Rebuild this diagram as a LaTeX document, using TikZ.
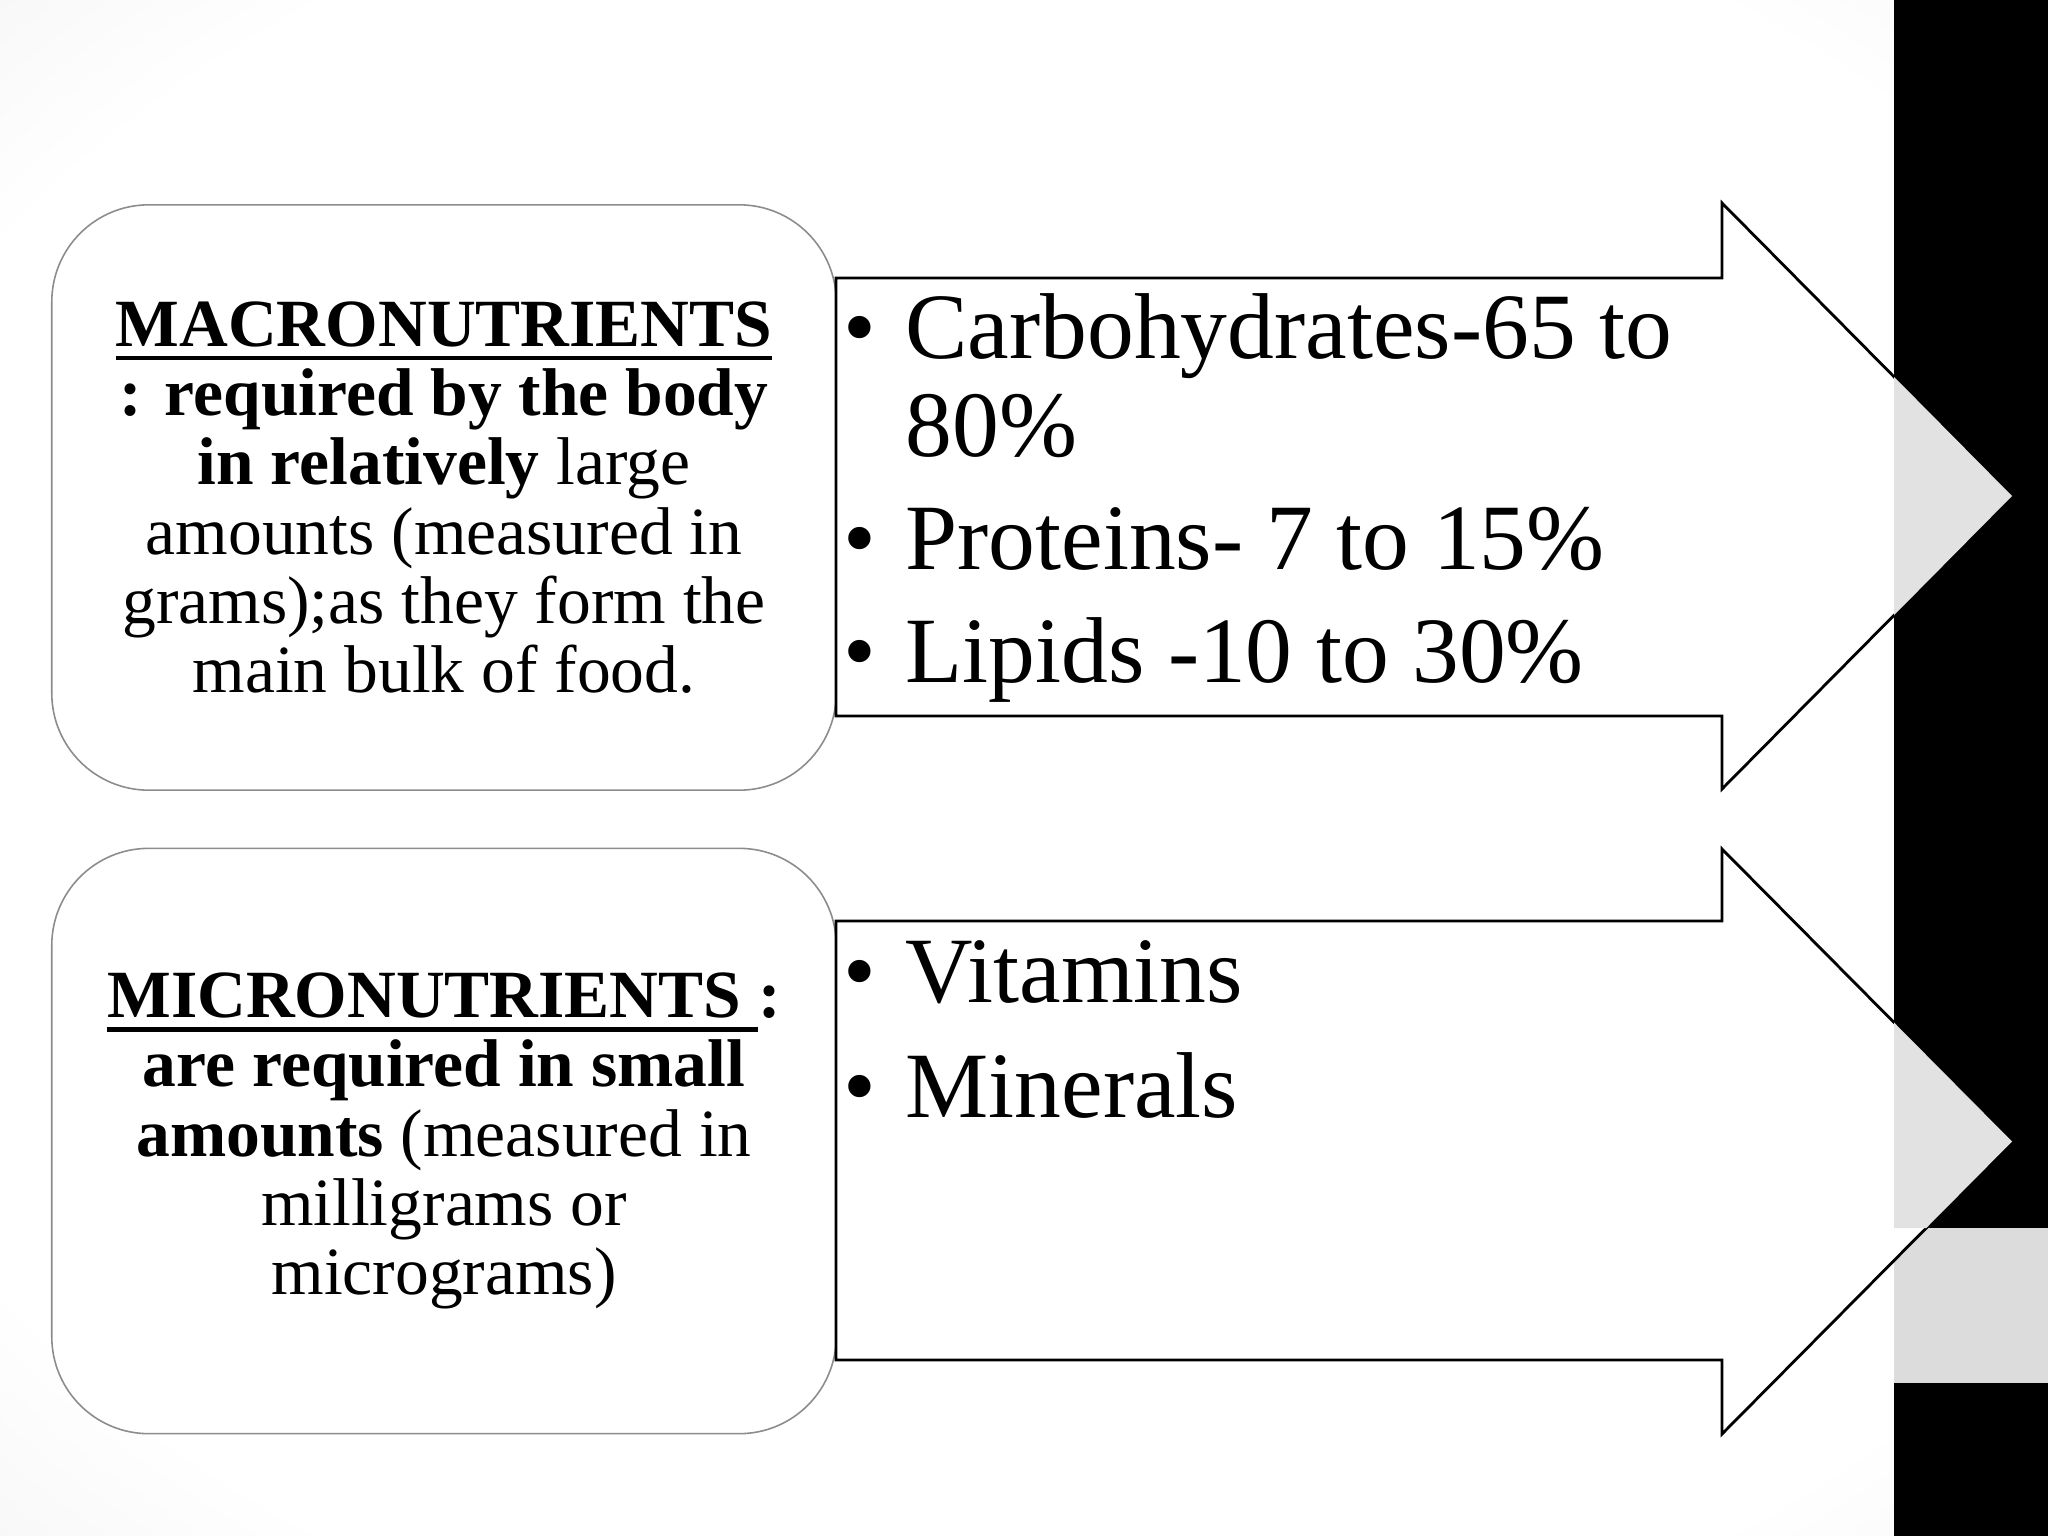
\documentclass[tikz,border=0pt]{standalone}
\usepackage{fontspec}
\setmainfont{Liberation Serif}
\usetikzlibrary{positioning}

\definecolor{boxline}{HTML}{8C8C8C}
\definecolor{bandgray}{HTML}{DCDCDC}
\definecolor{headgray}{HTML}{E2E2E2}
\pgfdeclareradialshading{slideshade}{\pgfpoint{0bp}{0bp}}{color(0bp)=(white); color(30bp)=(white); color(52bp)=(black!11); color(75bp)=(black!15)}

\newcommand{\thickul}[1]{\setbox0\hbox{#1}\rlap{\rule[-4pt]{\wd0}{1.3pt}}\box0}
\newcommand{\bul}{\makebox[17.6pt][l]{\textbullet}}
\newcommand{\arrowpath}[4]{(836,#3) -- (1722,#3) -- (1722,#1) -- (2012,{(#1+#2)/2}) -- (1722,#2) -- (1722,#4) -- (836,#4) -- cycle}

\tikzset{
  nutribox/.style={draw=boxline, line width=0.45pt, fill=white, rounded corners=0.97cm,
    minimum width=7.84cm, minimum height=5.85cm, inner sep=0pt},
  boxtext/.style={align=center, inner sep=0pt, font=\fontsize{19.2}{19.7}\selectfont},
  listtext/.style={align=left, anchor=base west, inner sep=0pt, font=\fontsize{26.6}{28}\selectfont},
  bigarrow/.style={draw=black, line width=0.8pt, fill=white, line join=miter}
}

\begin{document}
\begin{tikzpicture}[x=0.01cm, y=-0.01cm]
  % slide background
  \shade[shading=slideshade] (0,0) rectangle (2048,1536);
  \useasboundingbox (0,0) rectangle (2048,1536);
  \fill[black] (1894,0) rectangle (2048,1228);
  \fill[bandgray] (1894,1228) rectangle (2048,1383);
  \fill[black] (1894,1383) rectangle (2048,1536);

  \node[nutribox] (macro) at (444,497.5) {};
  \node[nutribox] (micro) at (444,1141) {};

  \draw[bigarrow] \arrowpath{203}{789}{278}{716};
  \draw[bigarrow] \arrowpath{849}{1434}{921}{1360};
  \begin{scope}
    \clip (1894,0) rectangle (2048,1228) (1894,1383) rectangle (2048,1536);
    \fill[headgray] \arrowpath{203}{789}{278}{716};
    \fill[headgray] \arrowpath{849}{1434}{921}{1360};
  \end{scope}

  \node[boxtext] (macrotext) at (macro.center) {\textbf{\thickul{MACRONUTRIENTS}}\\
    \textbf{: required by the body}\\
    \textbf{in relatively} large\\
    amounts (measured in\\
    grams);as they form the\\
    main bulk of food.};
  \node[boxtext] (microtext) at (micro.center) {\textbf{\thickul{MICRONUTRIENTS }:}\\
    \textbf{are required in small}\\
    \textbf{amounts} (measured in\\
    milligrams or\\
    micrograms)};

  % base anchor sits on the last line
  \node[listtext] (macrolist) at (843,682) {\bul Carbohydrates-65 to\\
    \hspace*{17.6pt}80\%\\[4pt]
    \bul Proteins- 7 to 15\%\\[4pt]
    \bul Lipids -10 to 30\%};
  \node[listtext] (microlist) at (843,1117) {\bul Vitamins\\[4.5pt]
    \bul Minerals};
\end{tikzpicture}
\end{document}
